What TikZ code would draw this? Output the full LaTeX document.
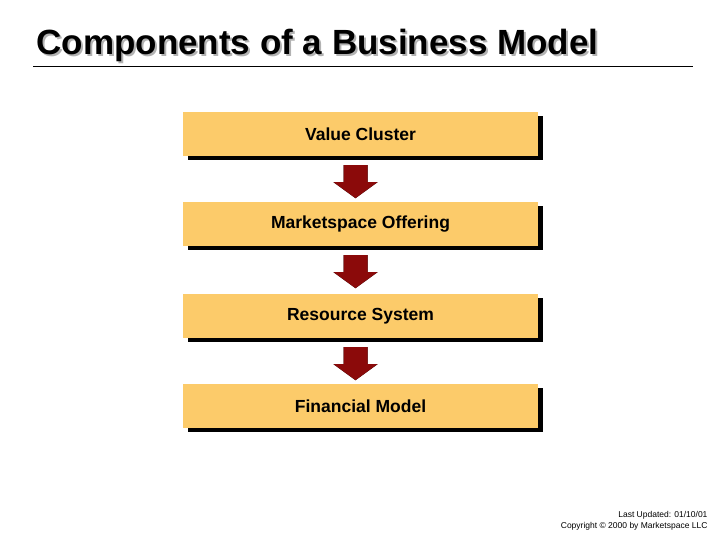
\documentclass[tikz,border=0pt]{standalone}
\usepackage{fontspec}
\setmainfont{Liberation Sans}
\definecolor{boxfill}{HTML}{FCCB6A}
\definecolor{arrowred}{HTML}{8B0A0A}
\begin{document}
\begin{tikzpicture}[x=1pt,y=-1pt,
  comp/.style={fill=boxfill,minimum width=355pt,minimum height=44pt,inner sep=0pt,font=\bfseries\fontsize{17.5}{20}\selectfont}]
\useasboundingbox (0,0) rectangle (720,540);
\node[font=\bfseries\fontsize{35}{40}\selectfont,text=gray!60,anchor=base west] (tshadow) at (35,57) {Components of a Business Model};
\node[font=\bfseries\fontsize{35}{40}\selectfont,anchor=base west] (title) at (33,55) {Components of a Business Model};
\draw[line width=0.8pt] (33,66) -- (693,66);
\foreach \n/\y/\t in {a/134/Value Cluster,b/224/Marketspace Offering,c/316/Resource System,d/406/Financial Model}{
  \fill (187.5,\y-18) rectangle (542.5,\y+26);
  \node[comp] (\n) at (360.5,\y) {\t};
}
\foreach \s in {a,b,c}{
  \foreach \dx/\col in {3/black,0/arrowred}{
    \fill[\col,shift={(\dx,\dx)}] ([xshift=-5pt,yshift=-9pt]\s.south) ++(-12,0) -- ++(24,0) -- ++(0,17) -- ++(10,0) -- ++(-22,16) -- ++(-22,-16) -- ++(10,0) -- cycle;
  }
}
\node[anchor=east,font=\fontsize{8.5}{11}\selectfont,align=right] (foot) at (711,521) {Last Updated: 01/10/01\\Copyright © 2000 by Marketspace LLC};
\end{tikzpicture}
\end{document}
